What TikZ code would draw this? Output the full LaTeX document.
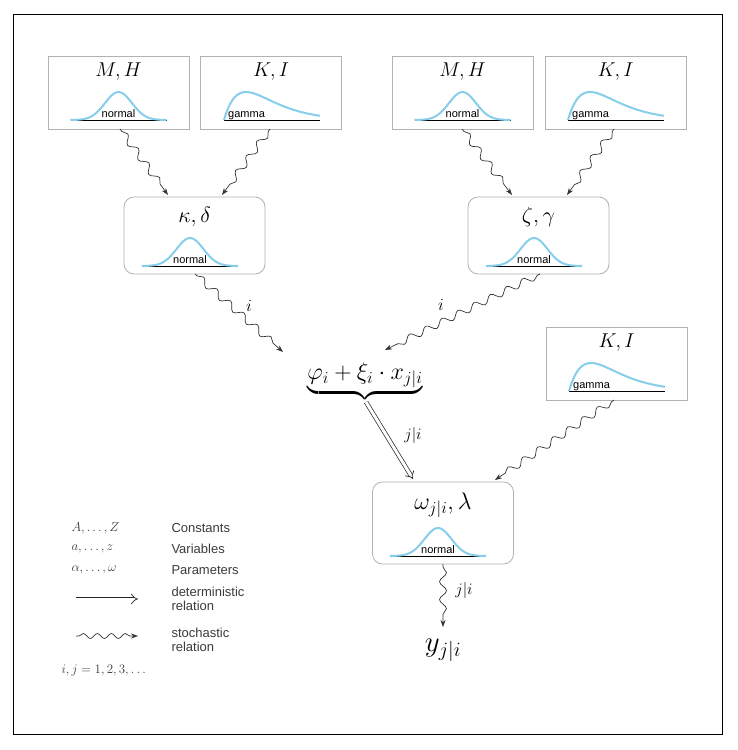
\documentclass[tikz,border=0pt]{standalone}
\usepackage{fix-cm}
\usepackage{fontspec}
\setmainfont{Liberation Sans}
\usepackage{amsmath}
\usetikzlibrary{decorations.pathmorphing,arrows.meta}
\definecolor{curve}{RGB}{135,206,235}
\definecolor{txt}{RGB}{60,60,60}
\tikzset{
  box/.style={draw=black!30,line width=0.8pt,minimum width=141pt,inner sep=0pt},
  rbox/.style={box,rounded corners=10pt},
  lbl/.style={font=\fontsize{20}{24}\selectfont},
  snk/.style={draw=black!80,line width=0.7pt,-{Stealth[length=7pt,width=5pt]},decorate,decoration={snake,amplitude=3.5pt,segment length=18pt,post length=6pt,pre length=3pt}},
  dbl/.style={double distance=3pt,-{Implies},double,draw=black!85,line width=0.7pt},
  dist/.style={font=\fontsize{11}{12}\selectfont,inner sep=0pt,text=black},
  leg/.style={font=\fontsize{13}{14}\selectfont,text=txt,anchor=west,align=left},
  legm/.style={font=\fontsize{13}{14}\selectfont,text=txt,anchor=west},
}
\newcommand{\gaus}[2]{% center x, baseline y
  \draw[line width=0.8pt] (#1-48,#2) -- (#1+48,#2);
  \draw[curve,line width=2pt] plot[domain=-48:48,samples=60] ({#1+\x},{#2-28*exp(-(\x/19)^2)});
  \node[dist,anchor=base] at (#1,#2-3) {normal};}
\newcommand{\gam}[2]{% start x, baseline y
  \draw[line width=0.8pt] (#1,#2) -- (#1+96,#2);
  \draw[curve,line width=2pt] plot[domain=0:96,samples=60] ({#1+\x},{#2-28*(\x/22)*exp(1-\x/22)});
  \node[dist,anchor=base west] at (#1+4,#2-3) {gamma};}
\begin{document}
\begin{tikzpicture}[x=1pt,y=-1pt]
\fill[white] (0,0) rectangle (737,750);
\draw[black,line width=0.8pt] (13,14) rectangle (722,734);
% top boxes
\node[box,minimum height=73pt] (b1) at (118.5,92.5) {};
\node[box,minimum height=73pt] (b2) at (271,92.5) {};
\node[box,minimum height=73pt] (b3) at (462.5,92.5) {};
\node[box,minimum height=73pt] (b4) at (615.5,92.5) {};
\node[box,minimum height=73pt] (b5) at (616.5,363.5) {};
\node[lbl] at (118.5,72) {$M,H$}; \gaus{118.5}{120}
\node[lbl] at (271,72) {$K,I$}; \gam{224}{120}
\node[lbl] at (462.5,72) {$M,H$}; \gaus{462.5}{120}
\node[lbl] at (615.5,72) {$K,I$}; \gam{568}{120}
\node[lbl] at (616.5,343) {$K,I$}; \gam{569}{391}
% rounded boxes
\node[rbox,minimum height=77pt] (k) at (194.5,235.5) {};
\node[lbl,font=\fontsize{22}{26}\selectfont] at (194.5,217) {$\kappa,\delta$}; \gaus{190}{266}
\node[rbox,minimum height=77pt] (z) at (538.5,235.5) {};
\node[lbl,font=\fontsize{22}{26}\selectfont] at (538.5,217) {$\zeta,\gamma$}; \gaus{534}{266}
\node[rbox,minimum height=82pt] (w) at (443,523) {};
\node[lbl,font=\fontsize{24}{28}\selectfont] at (443,505) {$\omega_{j|i},\lambda$}; \gaus{438}{556}
% formula
\node[font=\fontsize{24}{28}\selectfont,inner sep=0pt] (f) at (365,380) {$\underbrace{\varphi_i+\xi_i\cdot x_{j|i}}$};
\node[font=\fontsize{29}{32}\selectfont] (y) at (443,650) {$y_{j|i}$};
\coordinate (f1) at (366,402); \coordinate (f2) at (413,479);
\coordinate (e1) at (283,352); \coordinate (e2) at (385,350);
% arrows
\draw[snk] (120,129) -- (168,195);
\draw[snk] (270,129) -- (222,195);
\draw[snk] (462,129) -- (512,195);
\draw[snk] (614,129) -- (567,195);
\draw[snk] (195,274) -- (e1);
\node[font=\fontsize{17}{18}\selectfont] at (249,306) {$i$};
\draw[snk] (540,274) -- (e2);
\node[font=\fontsize{17}{18}\selectfont] at (441,305) {$i$};
\draw[snk] (614,400) -- (495,480);
\draw[snk] (443,564) -- (443,627);
\node[font=\fontsize{16}{18}\selectfont] at (464,590) {$j|i$};
\draw[dbl] (f1) -- (f2);
\node[font=\fontsize{16}{18}\selectfont] at (413,435) {$j|i$};
% legend
\node[legm] at (68,528) {$A,\ldots,Z$}; \node[leg] at (168,528) {Constants};
\node[legm] at (68,549) {$a,\ldots,z$}; \node[leg] at (168,549) {Variables};
\node[legm] at (68,570) {$\alpha,\ldots,\omega$}; \node[leg] at (168,570) {Parameters};
\coordinate (l1) at (76,599); \coordinate (l2) at (138,599);
\draw[dbl] (l1) -- (l2);
\node[leg] at (168,599) {deterministic\\relation};
\coordinate (s1) at (76,636); \coordinate (s2) at (138,636);
\draw[snk,decoration={snake,amplitude=2.5pt,segment length=14pt,post length=6pt}] (s1) -- (s2);
\node[leg] at (168,640) {stochastic\\relation};
\node[legm] at (58,670) {$i,j=1,2,3,\ldots$};
\end{tikzpicture}
\end{document}
